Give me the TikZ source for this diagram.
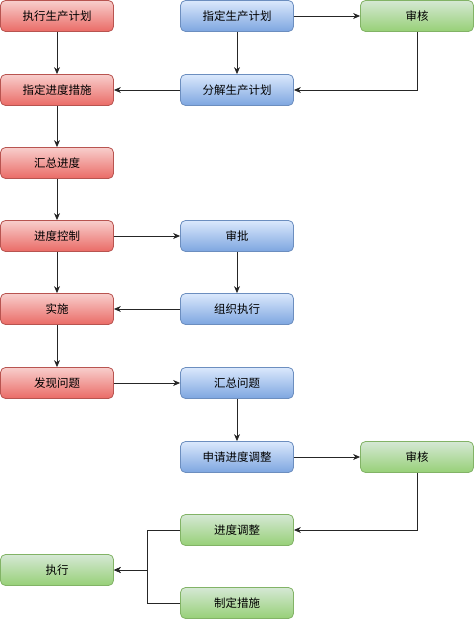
\documentclass[tikz,border=0pt]{standalone}
\usepackage{fontspec}
\setmainfont{Noto Sans CJK SC}
\usetikzlibrary{arrows.meta}

\definecolor{redtop}{HTML}{F8CECC}
\definecolor{redbot}{HTML}{EA6B66}
\definecolor{redline}{HTML}{B85450}
\definecolor{bluetop}{HTML}{DAE8FC}
\definecolor{bluebot}{HTML}{7EA6E0}
\definecolor{blueline}{HTML}{6C8EBF}
\definecolor{greentop}{HTML}{D5E8D4}
\definecolor{greenbot}{HTML}{97D077}
\definecolor{greenline}{HTML}{82B366}

\tikzset{
  box/.style={rounded corners=5pt, minimum width=113pt, minimum height=31pt,
    line width=0.8pt, font=\fontsize{11.5}{13}\selectfont, inner sep=0pt},
  redbox/.style={box, draw=redline, top color=redtop, bottom color=redbot},
  bluebox/.style={box, draw=blueline, top color=bluetop, bottom color=bluebot},
  greenbox/.style={box, draw=greenline, top color=greentop, bottom color=greenbot},
  link/.style={-{Stealth[length=7pt,width=6pt]}, line width=0.9pt, black!85}
}

\begin{document}
\begin{tikzpicture}[x=1pt,y=-1pt]
  \useasboundingbox (0,0) rectangle (474,620);

  % left column
  \node[redbox] (zhixingjihua) at (57,16) {执行生产计划};
  \node[redbox] (zhidingcuoshi) at (57,90) {指定进度措施};
  \node[redbox] (huizongjindu) at (57,163) {汇总进度};
  \node[redbox] (jindukongzhi) at (57,236) {进度控制};
  \node[redbox] (shishi) at (57,309) {实施};
  \node[redbox] (faxianwenti) at (57,383) {发现问题};
  \node[greenbox] (zhixing) at (57,570) {执行};

  % middle column
  \node[bluebox] (zhidingjihua) at (237,16) {指定生产计划};
  \node[bluebox] (fenjiejihua) at (237,90) {分解生产计划};
  \node[bluebox] (shenpi) at (237,236) {审批};
  \node[bluebox] (zuzhizhixing) at (237,309) {组织执行};
  \node[bluebox] (huizongwenti) at (237,383) {汇总问题};
  \node[bluebox] (shenqing) at (237,457) {申请进度调整};
  \node[greenbox] (jindutiaozheng) at (237,530) {进度调整};
  \node[greenbox] (zhidingcs) at (237,603) {制定措施};

  % right column
  \node[greenbox] (shenhe) at (417,16) {审核};
  \node[greenbox] (shenhe2) at (417,457) {审核};

  \coordinate (hub) at (147,570);

  % top part
  \draw[link] (zhixingjihua) -- (zhidingcuoshi);
  \draw[link] (zhidingjihua) -- (shenhe);
  \draw[link] (zhidingjihua) -- (fenjiejihua);
  \draw[link] (shenhe.south) |- (fenjiejihua.east);
  \draw[link] (fenjiejihua) -- (zhidingcuoshi);
  \draw[link] (zhidingcuoshi) -- (huizongjindu);
  \draw[link] (huizongjindu) -- (jindukongzhi);

  % control loop
  \draw[link] (jindukongzhi) -- (shenpi);
  \draw[link] (shenpi) -- (zuzhizhixing);
  \draw[link] (zuzhizhixing) -- (shishi);
  \draw[link] (jindukongzhi) -- (shishi);
  \draw[link] (shishi) -- (faxianwenti);

  % adjustment
  \draw[link] (faxianwenti) -- (huizongwenti);
  \draw[link] (huizongwenti) -- (shenqing);
  \draw[link] (shenqing) -- (shenhe2);
  \draw[link] (shenhe2.south) |- (jindutiaozheng.east);
  \draw[link] (jindutiaozheng.west) -| (hub) -- (zhixing.east);
  \draw[link] (zhidingcs.west) -| (hub) -- (zhixing.east);

\end{tikzpicture}
\end{document}
